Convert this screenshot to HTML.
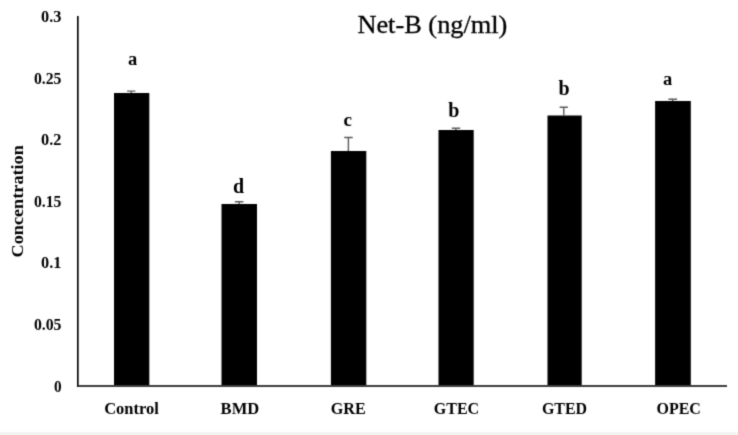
<!DOCTYPE html>
<html>
<head>
<meta charset="utf-8">
<style>
html,body{margin:0;padding:0;background:#fff;}
body{width:738px;height:435px;overflow:hidden;position:relative;}
svg{position:absolute;left:0;top:0;display:block;will-change:transform;}
text{font-family:"Liberation Serif",serif;fill:#000;}
.b{font-weight:bold;}
</style>
</head>
<body>
<svg width="738" height="435" viewBox="0 0 738 435">
<defs><filter id="bl" color-interpolation-filters="sRGB" x="0" y="0" width="738" height="435" filterUnits="userSpaceOnUse"><feConvolveMatrix order="3" kernelMatrix="0.02250 0.10500 0.02250 0.10500 0.49000 0.10500 0.02250 0.10500 0.02250" divisor="1" edgeMode="duplicate" preserveAlpha="false"/></filter></defs>
<rect x="0" y="0" width="738" height="435" fill="#fff"/>
<g filter="url(#bl)">
<rect x="0" y="0" width="738" height="435" fill="#fff"/>
<rect x="0" y="432" width="738" height="3" fill="#f3f3f3"/>
<!-- title -->
<text x="432.4" y="32.7" font-size="25" text-anchor="middle" stroke="#000" stroke-width="0.3" textLength="150" lengthAdjust="spacingAndGlyphs">Net-B (ng/ml)</text>
<!-- y label -->
<text class="b" transform="translate(22.9,201.3) rotate(-90)" font-size="17.5" text-anchor="middle" textLength="112.3" lengthAdjust="spacingAndGlyphs">Concentration</text>
<!-- tick labels -->
<g class="b" font-size="17.3" text-anchor="end">
<text x="61.5" y="22" textLength="20.4" lengthAdjust="spacingAndGlyphs">0.3</text>
<text x="61.5" y="83.6" textLength="27.6" lengthAdjust="spacingAndGlyphs">0.25</text>
<text x="61.5" y="145.2" textLength="20.4" lengthAdjust="spacingAndGlyphs">0.2</text>
<text x="61.5" y="206.8" textLength="27.6" lengthAdjust="spacingAndGlyphs">0.15</text>
<text x="61.5" y="268.3" textLength="20.4" lengthAdjust="spacingAndGlyphs">0.1</text>
<text x="61.5" y="329.9" textLength="27.6" lengthAdjust="spacingAndGlyphs">0.05</text>
<text x="61.5" y="391.5" textLength="7.6" lengthAdjust="spacingAndGlyphs">0</text>
</g>
<!-- bars -->
<g fill="#000">
<rect x="114" y="93" width="35.3" height="293"/>
<rect x="221.5" y="204" width="35.5" height="182"/>
<rect x="330.9" y="151" width="35.4" height="235"/>
<rect x="438.5" y="130" width="35.2" height="256"/>
<rect x="547.5" y="115.5" width="34.2" height="270.5"/>
<rect x="655.1" y="101" width="35.7" height="285"/>
</g>
<!-- error bars -->
<g stroke="#5a5a5a" stroke-width="1.4" fill="none">
<path d="M131.3 93V91.1M127.1 91.1H135.4"/>
<path d="M239.2 204V201.7M234.9 201.7H243.4"/>
<path d="M348.4 151V137.5M344.2 137.5H352.7"/>
<path d="M455.9 130V128.3M451.8 128.3H460.2"/>
<path d="M563.8 115.5V107.3M559.6 107.3H567.9"/>
<path d="M672.7 101V99.3M668.4 99.3H677.1"/>
</g>
<!-- axes -->
<rect x="77" y="16" width="1" height="371" fill="#000"/>
<rect x="78" y="16" width="1" height="369" fill="#5a5a5a"/>
<rect x="78" y="385" width="649" height="2" fill="#3d3d3d"/>
<!-- significance letters -->
<g class="b" font-size="19" text-anchor="middle">
<text x="132.5" y="65.3" font-size="18.5">a</text>
<text x="238.6" y="193.2" font-size="20">d</text>
<text x="347.7" y="125.8">c</text>
<text x="453.9" y="117" font-size="20">b</text>
<text x="564.1" y="95" font-size="20">b</text>
<text x="667.6" y="85.3" font-size="18.5">a</text>
</g>
<!-- category labels -->
<g class="b" font-size="17" text-anchor="middle">
<text x="131.5" y="414" textLength="54.6" lengthAdjust="spacingAndGlyphs">Control</text>
<text x="239.9" y="414" textLength="38.6" lengthAdjust="spacingAndGlyphs">BMD</text>
<text x="348.3" y="414" textLength="35" lengthAdjust="spacingAndGlyphs">GRE</text>
<text x="456.5" y="414" textLength="45.4" lengthAdjust="spacingAndGlyphs">GTEC</text>
<text x="564.5" y="414" textLength="45.2" lengthAdjust="spacingAndGlyphs">GTED</text>
<text x="678.7" y="414" textLength="44.4" lengthAdjust="spacingAndGlyphs">OPEC</text>
</g>
</g>
</svg>
</body>
</html>
